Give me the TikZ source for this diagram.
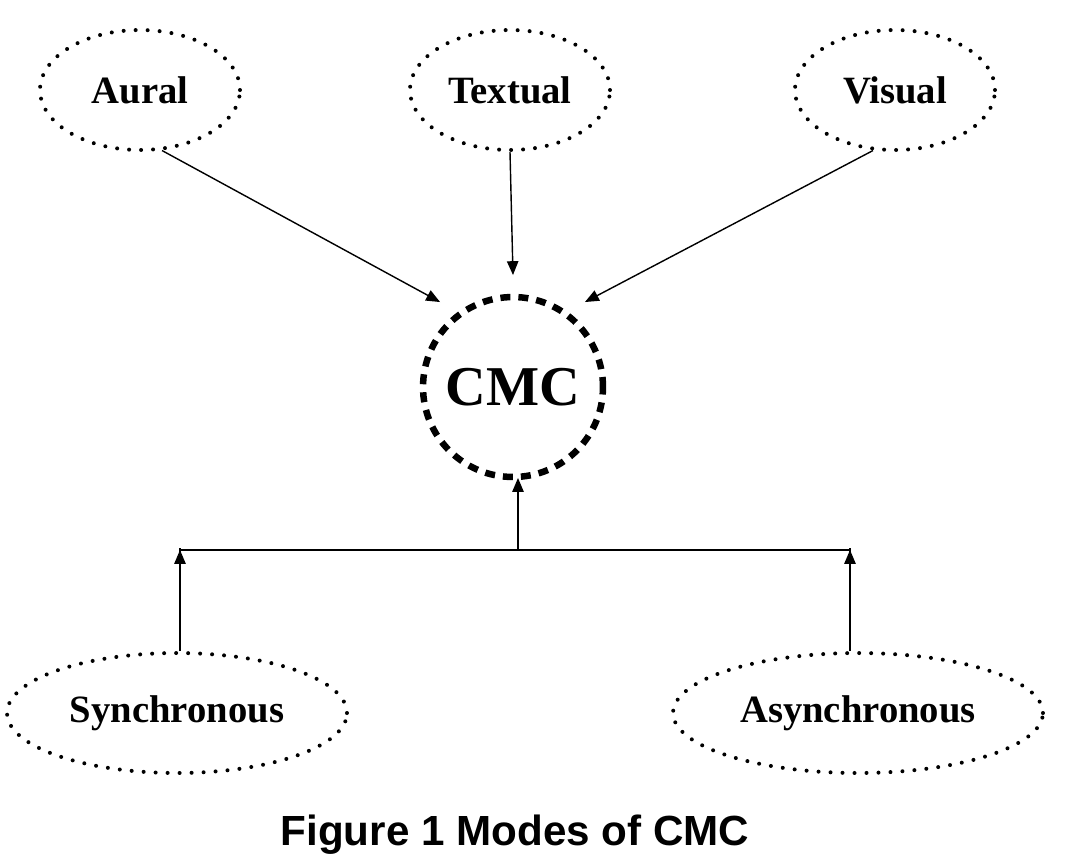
\documentclass[tikz,border=0pt]{standalone}
\usepackage{fontspec}
\setmainfont{Liberation Serif}
\newfontfamily\capfont{Liberation Sans}
\usetikzlibrary{shapes.geometric, arrows}
\tikzstyle{mode} = [ellipse, draw=black, line width=0.08cm, line cap=round, dash pattern=on 0pt off 0.24cm, font=\bfseries\fontsize{22}{26}\selectfont, inner sep=0pt]
\tikzstyle{hub} = [circle, draw=black, line width=0.13cm, dash pattern=on 0.2cm off 0.16cm, font=\bfseries\fontsize{32}{36}\selectfont, inner sep=0pt, minimum size=3.6cm]
\tikzstyle{arrow} = [thick,->,>=triangle 45]

\begin{document}
\begin{tikzpicture}[x=0.02cm, y=-0.02cm]
\useasboundingbox (0,0) rectangle (1072,860);
\node (aural) [mode, minimum width=4.0cm, minimum height=2.4cm] at (140,90) {Aural};
\node (textual) [mode, minimum width=4.0cm, minimum height=2.4cm] at (510,90) {Textual};
\node (visual) [mode, minimum width=4.0cm, minimum height=2.4cm] at (895,90) {Visual};
\node (cmc) [hub] at (513,387) {CMC};
\node (sync) [mode, minimum width=6.8cm, minimum height=2.4cm] at (177,713) {Synchronous};
\node (async) [mode, minimum width=7.4cm, minimum height=2.4cm] at (858,713) {Asynchronous};
\node (caption) [font=\capfont\bfseries\fontsize{24}{28}\selectfont] at (515,835) {Figure 1 Modes of CMC};

\coordinate (barl) at (180,550);
\coordinate (barr) at (850,550);
\coordinate (barm) at (518,550);

\draw [arrow] (aural.-70) -- (440,302);
\draw [arrow] (textual.south) -- (513,275);
\draw [arrow] (visual.-110) -- (585,302);
\draw [thick] (barl) -- (barr);
\draw [arrow] (barm) -- (518,478);
\draw [arrow] (sync.north) ++(3,0) |- (barl);
\draw [arrow] (async.north) ++(-8,0) |- (barr);
\end{tikzpicture}
\end{document}
